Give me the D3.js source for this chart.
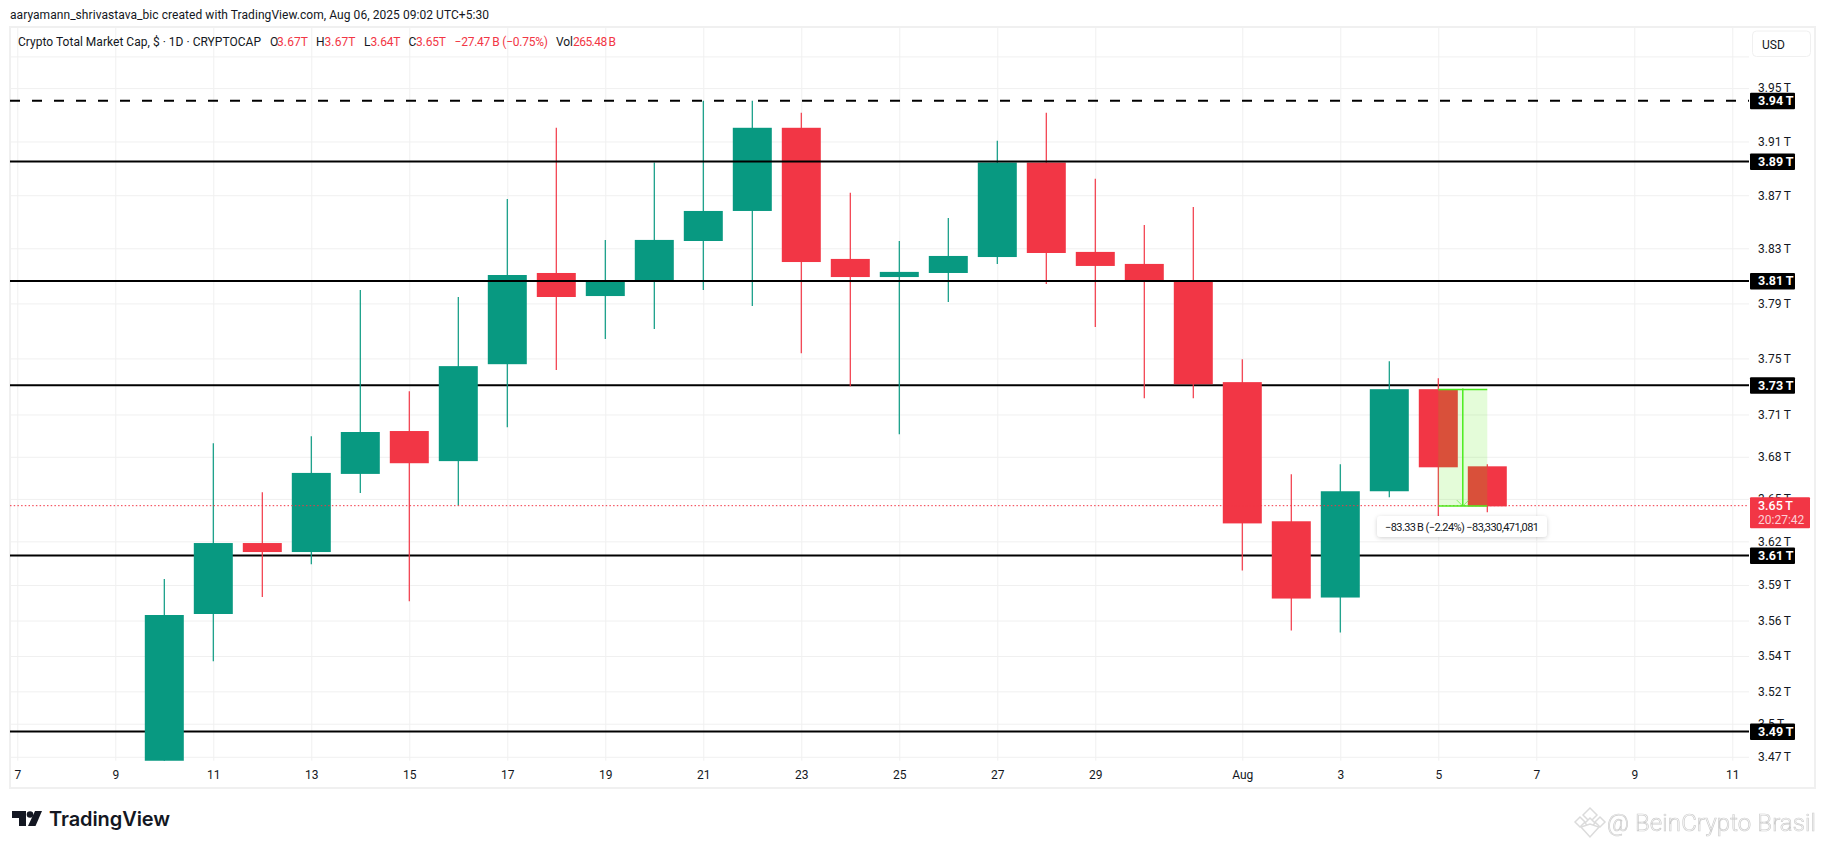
<!DOCTYPE html>
<style>
body {
  margin: 0;
  padding: 0;
  background: #fff;
}
svg {
  display: block;
  font-family: Roboto, sans-serif;
}
.axis .domain {
  display: none;
}
.axis line {
  stroke: #f0f0f0;
}
.axis text {
  fill: #131722;
  font-size: 12px;
  font-family: Roboto, sans-serif;
}
</style>
<svg width="1825" height="849"></svg>
<script src="https://d3js.org/d3.v7.min.js"></script>
<script>

// candles, Jul 10 .. Aug 6 (days counted from Jul 1 = 1, so Aug 1 = 32), prices in trillions
var days = [10,11,12,13,14,15,16,17,18,19,20,21,22,23,24,25,26,27,28,29,30,31,32,33,34,35,36,37];
var opens = [3.44,3.5668,3.6162,3.6099,3.6650,3.6956,3.6741,3.7438,3.8106,3.7936,3.8054,3.8343,3.8567,3.9194,3.8210,3.8076,3.8106,3.8224,3.8931,3.8262,3.8173,3.8047,3.7308,3.6315,3.5782,3.6527,3.7257,3.6704];
var highs = [3.5910,3.6869,3.6520,3.6919,3.7980,3.7242,3.7929,3.8657,3.9194,3.8351,3.8932,3.94,3.94,3.9308,3.8703,3.8343,3.8515,3.9095,3.9308,3.8808,3.8463,3.8597,3.7474,3.6647,3.6718,3.7460,3.7337,3.6718];
var lows = [3.42,3.5342,3.5785,3.6013,3.6515,3.5757,3.6427,3.6983,3.7395,3.7621,3.7694,3.7980,3.7862,3.7518,3.7279,3.6933,3.7892,3.8173,3.8025,3.7709,3.7192,3.7192,3.5970,3.5554,3.5540,3.6484,3.6350,3.6378];
var closes = [3.5661,3.6162,3.6099,3.6657,3.6949,3.6726,3.7424,3.8091,3.7929,3.8054,3.8351,3.8567,3.9194,3.8187,3.8076,3.8114,3.8232,3.8931,3.8254,3.8158,3.8047,3.7293,3.6300,3.5775,3.6527,3.7257,3.6697,3.6420];

// price axis
var priceTicks = [3.974,3.9497,3.909,3.8685,3.8289,3.7882,3.748,3.7075,3.6772,3.6473,3.6174,3.5869,3.5623,3.5379,3.5137,3.4917,3.4694];
var priceLabels = ["","3.95\u2009T","3.91\u2009T","3.87\u2009T","3.83\u2009T","3.79\u2009T","3.75\u2009T","3.71\u2009T","3.68\u2009T","3.65\u2009T","3.62\u2009T","3.59\u2009T","3.56\u2009T","3.54\u2009T","3.52\u2009T","3.5\u2009T","3.47\u2009T"];

// time axis
var dayTicks = [7,9,11,13,15,17,19,21,23,25,27,29,32,34,36,38,40,42];
var dayLabels = ["7","9","11","13","15","17","19","21","23","25","27","29","Aug","3","5","7","9","11"];

// horizontal levels drawn by the author
var levelPrices = [3.94,3.8938,3.8047,3.7286,3.6075,3.4865];
var levelLabels = ["3.94\u2009T","3.89\u2009T","3.81\u2009T","3.73\u2009T","3.61\u2009T","3.49\u2009T"];

var lastPrice = 3.6425;
var measureFrom = 3.7255;
var measureTo = 3.6422;

var upColor = "#089981",
    downColor = "#F23645",
    textColor = "#131722";

var candles = days.map(function(d, i) {
  return {day: d, open: opens[i], high: highs[i], low: lows[i], close: closes[i]};
});

var svg = d3.select("svg"),
    pane = {left: 10, right: 1749, top: 27, bottom: 760.7};

var x = d3.scaleLinear()
    .domain([6.851, 42.341])
    .range([pane.left, pane.right]);

var y = d3.scaleLog()
    .domain([3.4663, 3.9962])
    .range([pane.bottom + 0.7, pane.top + 0.7]);

var barWidth = 39;

svg.append("clipPath").attr("id", "pane")
  .append("rect")
    .attr("x", pane.left)
    .attr("y", pane.top)
    .attr("width", pane.right - pane.left)
    .attr("height", pane.bottom - pane.top);

// grid + tick labels
svg.append("g")
    .attr("class", "axis")
    .attr("transform", "translate(0," + pane.bottom + ")")
    .call(d3.axisBottom(x)
      .tickValues(dayTicks)
      .tickFormat(function(d, i) { return dayLabels[i]; })
      .tickSize(-(pane.bottom - pane.top))
      .tickPadding(10));

svg.append("g")
    .attr("class", "axis")
    .attr("transform", "translate(" + pane.right + ",0)")
    .call(d3.axisRight(y)
      .tickValues(priceTicks)
      .tickFormat(function(d, i) { return priceLabels[i]; })
      .tickSize(-(pane.right - pane.left))
      .tickPadding(9));

// frame
svg.append("rect")
    .attr("x", pane.left)
    .attr("y", pane.top)
    .attr("width", 1815 - pane.left)
    .attr("height", 788 - pane.top)
    .attr("fill", "none")
    .attr("stroke", "#f0f0f0")
    .attr("stroke-width", 2);

function drawLevels(group, prices) {
  group.selectAll("line")
    .data(prices)
    .enter().append("line")
      .attr("x1", pane.left)
      .attr("x2", pane.right)
      .attr("y1", function(d) { return y(d); })
      .attr("y2", function(d) { return y(d); })
      .attr("stroke", "#000")
      .attr("stroke-width", 2)
      .attr("stroke-dasharray", function(d) { return d === levelPrices[0] ? "10,12" : null; });
}

// the three lower levels sit behind the candles, the upper ones in front
drawLevels(svg.append("g"), levelPrices.slice(3));

var candle = svg.append("g")
    .attr("clip-path", "url(#pane)")
    .selectAll("g")
    .data(candles)
    .enter().append("g");

candle.append("line")
    .attr("x1", function(d) { return x(d.day); })
    .attr("x2", function(d) { return x(d.day); })
    .attr("y1", function(d) { return y(d.high); })
    .attr("y2", function(d) { return y(d.low); })
    .attr("stroke", function(d) { return d.close >= d.open ? upColor : downColor; })
    .attr("stroke-width", 1.2);

candle.append("rect")
    .attr("x", function(d) { return x(d.day) - barWidth / 2; })
    .attr("y", function(d) { return y(Math.max(d.open, d.close)); })
    .attr("width", barWidth)
    .attr("height", function(d) { return Math.abs(y(d.open) - y(d.close)); })
    .attr("fill", function(d) { return d.close >= d.open ? upColor : downColor; });

drawLevels(svg.append("g"), levelPrices.slice(0, 3));

// last price line
svg.append("line")
    .attr("x1", pane.left)
    .attr("x2", pane.right)
    .attr("y1", y(lastPrice))
    .attr("y2", y(lastPrice))
    .attr("stroke", downColor)
    .attr("stroke-dasharray", "1.5,2.2");

// measure tool on Aug 5 - Aug 6
var measure = svg.append("g");
var mx0 = x(36), mx1 = x(37), mxc = (mx0 + mx1) / 2;
var my0 = y(measureFrom), my1 = y(measureTo);

measure.append("rect")
    .attr("x", mx0)
    .attr("y", my0)
    .attr("width", mx1 - mx0)
    .attr("height", my1 - my0)
    .attr("fill", "rgba(76,235,0,0.15)");

measure.selectAll("line.edge")
    .data([my0, my1])
    .enter().append("line")
      .attr("class", "edge")
      .attr("x1", mx0)
      .attr("x2", mx1)
      .attr("y1", function(d) { return d; })
      .attr("y2", function(d) { return d; })
      .attr("stroke", "#4cec1e")
      .attr("stroke-width", 1.5);

measure.append("line")
    .attr("x1", mxc)
    .attr("x2", mxc)
    .attr("y1", my0 - 1)
    .attr("y2", my1)
    .attr("stroke", "#4cec1e")
    .attr("stroke-width", 1.5);

measure.append("path")
    .attr("d", "M" + (mxc - 6) + "," + (my1 - 6) + "L" + mxc + "," + my1 + "L" + (mxc + 6) + "," + (my1 - 6))
    .attr("fill", "none")
    .attr("stroke", "#4cec1e")
    .attr("stroke-opacity", 0.6);

var shadow = svg.append("filter").attr("id", "shadow")
    .attr("x", "-10%").attr("y", "-30%").attr("width", "120%").attr("height", "170%");
shadow.append("feDropShadow")
    .attr("dx", 0).attr("dy", 1).attr("stdDeviation", 2)
    .attr("flood-color", "#000").attr("flood-opacity", 0.18);

measure.append("rect")
    .attr("x", 1377)
    .attr("y", 516)
    .attr("width", 170)
    .attr("height", 21)
    .attr("rx", 4)
    .attr("fill", "#fff")
    .attr("filter", "url(#shadow)");

measure.append("text")
    .attr("x", 1385)
    .attr("y", 530.5)
    .attr("font-size", 11)
    .attr("fill", textColor)
    .attr("textLength", 154)
    .text("\u221283.33\u2009B (\u22122.24%) \u221283,330,471,081");

// level tags on the price scale
var tag = svg.append("g")
    .selectAll("g")
    .data(levelPrices)
    .enter().append("g")
      .attr("transform", function(d) { return "translate(1750," + y(d) + ")"; });

tag.append("rect")
    .attr("y", -8)
    .attr("width", 45)
    .attr("height", 16.5)
    .attr("rx", 1)
    .attr("fill", "#000");

tag.append("text")
    .attr("x", 8)
    .attr("y", 4.5)
    .attr("font-size", 12.5)
    .attr("font-weight", 700)
    .attr("fill", "#fff")
    .text(function(d, i) { return levelLabels[i]; });

// last price tag
var lastTag = svg.append("g")
    .attr("transform", "translate(1750," + y(lastPrice) + ")");

lastTag.append("rect")
    .attr("y", -8.5)
    .attr("width", 60)
    .attr("height", 31)
    .attr("rx", 1)
    .attr("fill", downColor);

lastTag.append("text")
    .attr("x", 8)
    .attr("y", 4.5)
    .attr("font-size", 12.5)
    .attr("font-weight", 500)
    .attr("fill", "#fff")
    .text("3.65\u2009T");

lastTag.append("text")
    .attr("x", 8)
    .attr("y", 18)
    .attr("font-size", 12)
    .attr("fill", "#fcd0d5")
    .text("20:27:42");

// currency button
svg.append("rect")
    .attr("x", 1752.5)
    .attr("y", 31)
    .attr("width", 58)
    .attr("height", 25.5)
    .attr("rx", 4)
    .attr("fill", "#fff")
    .attr("stroke", "#f0f0f0");

svg.append("text")
    .attr("x", 1762)
    .attr("y", 49)
    .attr("font-size", 12)
    .attr("fill", textColor)
    .text("USD");

// header
svg.append("text")
    .attr("x", 10)
    .attr("y", 19)
    .attr("font-size", 12)
    .attr("fill", textColor)
    .attr("textLength", 479)
    .text("aaryamann_shrivastava_bic created with TradingView.com, Aug 06, 2025 09:02 UTC+5:30");

var legendParts = [
  {x: 18, len: 243, color: textColor, text: "Crypto Total Market Cap, $ \u00b7 1D \u00b7 CRYPTOCAP"},
  {x: 270, len: 7, color: textColor, text: "O"},
  {x: 277, len: 31, color: downColor, text: "3.67T"},
  {x: 316, len: 8, color: textColor, text: "H"},
  {x: 324.5, len: 31, color: downColor, text: "3.67T"},
  {x: 364, len: 6, color: textColor, text: "L"},
  {x: 370.5, len: 30, color: downColor, text: "3.64T"},
  {x: 408.5, len: 7, color: textColor, text: "C"},
  {x: 416, len: 30, color: downColor, text: "3.65T"},
  {x: 454.5, len: 93.5, color: downColor, text: "\u221227.47\u2009B (\u22120.75%)"},
  {x: 556, len: 17, color: textColor, text: "Vol"},
  {x: 573, len: 43, color: downColor, text: "265.48\u2009B"}
];

svg.append("g")
    .selectAll("text")
    .data(legendParts)
    .enter().append("text")
      .attr("x", function(d) { return d.x; })
      .attr("y", 46)
      .attr("font-size", 12)
      .attr("fill", function(d) { return d.color; })
      .attr("textLength", function(d) { return d.len; })
      .text(function(d) { return d.text; });

// TradingView logo
var logo = svg.append("g").attr("fill", "#131722");

logo.append("path").attr("d", "M12,811H26V826H19V818H12Z");
logo.append("circle").attr("cx", 30).attr("cy", 814.5).attr("r", 3.3);
logo.append("path").attr("d", "M35,811H42L35.5,826H28Z");

logo.append("text")
    .attr("x", 49)
    .attr("y", 826)
    .attr("font-family", "Inter, sans-serif")
    .attr("font-size", 20)
    .attr("font-weight", 600)
    .attr("textLength", 121)
    .text("TradingView");

// watermark
var mark = svg.append("g").attr("opacity", 0.75);

mark.selectAll("path")
    .data(["M1590,808l7,7l-7,7l-7,-7Z", "M1580,817l5,5l-5,5l-5,-5Z", "M1600,817l5,5l-5,5l-5,-5Z", "M1590,818l5,5l-5,5l-5,-5Z", "M1581,827l9,-3l9,3l-9,10Z"])
    .enter().append("path")
      .attr("d", function(d) { return d; })
      .attr("fill", "#fff")
      .attr("stroke", "#d0d0d0")
      .attr("stroke-width", 1.5);

mark.append("text")
    .attr("x", 1607)
    .attr("y", 831)
    .attr("font-family", "Roboto, sans-serif")
    .attr("font-size", 24)
    .attr("font-weight", 300)
    .attr("fill", "#fff")
    .attr("stroke", "#bbb")
    .attr("stroke-width", 0.7)
    .attr("textLength", 209)
    .text("@ BeinCrypto Brasil");

</script>
